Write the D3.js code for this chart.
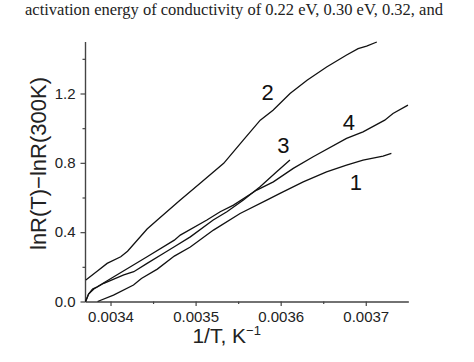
<!DOCTYPE html>
<html lang="en">
    <head>
        <meta charset="utf-8">
        <title>lnR vs 1/T</title>
        <script type="text/javascript" src="https://cdn.jsdelivr.net/npm/d3@7"></script>
        <style type="text/css">
            body { margin: 0; background: #fff; }
            .axis text { font-family: "Liberation Sans", Arial, sans-serif; font-size: 15px; fill: #222; }
            .axis path, .axis line { stroke: #444; stroke-width: 1.2; }
        </style>
    </head>
    <body>
        <script type="text/javascript">
            //curve data, 1/T (K^-1) and lnR(T)-lnR(300K)
            var curve1X = [0.0033848, 0.0034035, 0.003427, 0.0034363, 0.003455, 0.003475, 0.0034938, 0.003521, 0.0035523, 0.0035836, 0.0035992, 0.0036265, 0.0036539, 0.0036774, 0.0036968, 0.0037203, 0.0037301];
            var curve1Y = [0, 0.037, 0.095, 0.133, 0.187, 0.262, 0.314, 0.412, 0.508, 0.585, 0.624, 0.690, 0.748, 0.787, 0.816, 0.839, 0.854];

            var curve2X = [0.003371, 0.003385, 0.003396, 0.003412, 0.00342, 0.003443, 0.003455, 0.003482, 0.003505, 0.003533, 0.003556, 0.003576, 0.003591, 0.003611, 0.003631, 0.003654, 0.003677, 0.003691, 0.003701, 0.003713];
            var curve2Y = [0.124, 0.178, 0.220, 0.258, 0.290, 0.418, 0.470, 0.585, 0.681, 0.797, 0.931, 1.046, 1.104, 1.200, 1.277, 1.353, 1.421, 1.459, 1.473, 1.497];

            var curve3X = [0.0033707, 0.0033742, 0.0033804, 0.0033921, 0.0034156, 0.0034273, 0.003443, 0.0034625, 0.003475, 0.0034938, 0.0035207, 0.0035368, 0.0035562, 0.0035758, 0.0035953, 0.0036109];
            var curve3Y = [0, 0.043, 0.072, 0.105, 0.153, 0.172, 0.220, 0.278, 0.316, 0.373, 0.470, 0.518, 0.585, 0.662, 0.748, 0.816];

            var curve4X = [0.0033707, 0.0033742, 0.0033789, 0.0033844, 0.0034039, 0.003443, 0.003475, 0.003482, 0.0035133, 0.0035289, 0.0035445, 0.0035719, 0.0035914, 0.0036148, 0.0036382, 0.0036774, 0.0036968, 0.0037223, 0.003732, 0.0037496];
            var curve4Y = [0, 0.043, 0.072, 0.085, 0.143, 0.258, 0.354, 0.383, 0.470, 0.518, 0.556, 0.643, 0.690, 0.768, 0.835, 0.941, 0.979, 1.046, 1.085, 1.133];

            //curve labels (number + where it sits, data units)
            var labelText = ["1", "2", "3", "4"];
            var labelX = [0.0036883, 0.0035848, 0.0036033, 0.0036801];
            var labelY = [0.643, 1.161, 0.858, 0.988];

            //ticks
            var xTicks = [0.0034, 0.0035, 0.0036, 0.0037];
            var xMinor = [0.00345, 0.00355, 0.00365];
            var yTicks = [0, 0.4, 0.8, 1.2];
            var yMinor = [0.2, 0.6, 1.0, 1.4];

            var caption = "activation energy of conductivity of 0.22 eV, 0.30 eV, 0.32, and";

            var margin = {top: 41.5, right: 65.7, bottom: 60.5, left: 85};
            var width = 474 - margin.left - margin.right,
                height = 362 - margin.top - margin.bottom;

            var svgRoot = d3.select("body").append("svg")
                        .attr("width", 474)
                        .attr("height", 362);

            //caption line from the page above the figure
            svgRoot.append("text")
                .attr("x", 25)
                .attr("y", 14.5)
                .attr("font-family", "'Liberation Serif', serif")
                .attr("font-size", 16.5)
                .attr("fill", "#222")
                .text(caption);

            var svg = svgRoot.append("g")
                        .attr("transform", "translate(" + margin.left + "," + margin.top + ")");

            var xScale = d3.scaleLinear()
                        .domain([0.00337, 0.00375])
                        .range([0, width]);

            var yScale = d3.scaleLinear()
                        .domain([0, 1.5])
                        .range([height, 0]);

            //minor ticks first
            svg.append("g")
                .attr("class", "axis")
                .attr("transform", "translate(0," + height + ")")
                .call(d3.axisBottom(xScale).tickValues(xMinor).tickSize(2.5).tickFormat("").tickSizeOuter(0));
            svg.append("g")
                .attr("class", "axis")
                .call(d3.axisLeft(yScale).tickValues(yMinor).tickSize(2.5).tickFormat("").tickSizeOuter(0));

            //X axis
            svg.append("g")
                .attr("class", "axis")
                .attr("transform", "translate(0," + height + ")")
                .call(d3.axisBottom(xScale).tickValues(xTicks).tickSize(4.5).tickPadding(5)
                        .tickFormat(d3.format(".4f")).tickSizeOuter(0));

            //Y axis
            svg.append("g")
                .attr("class", "axis")
                .call(d3.axisLeft(yScale).tickValues(yTicks).tickSize(4.5).tickPadding(5)
                        .tickFormat(d3.format(".1f")).tickSizeOuter(0));

            //axis titles
            var xTitle = svg.append("text")
                .attr("text-anchor", "middle")
                .attr("x", width / 2 - 20)
                .attr("y", height + 41)
                .attr("font-family", "'Liberation Sans', Arial, sans-serif")
                .attr("font-size", 21)
                .attr("fill", "#222");
            xTitle.append("tspan").text("1/T, K");
            xTitle.append("tspan").attr("dy", -8).attr("font-size", 13).text("\u22121");

            svg.append("text")
                .attr("text-anchor", "middle")
                .attr("transform", "translate(" + (-39) + "," + (height / 2 - 8) + ") rotate(-90)")
                .attr("font-family", "'Liberation Sans', Arial, sans-serif")
                .attr("font-size", 22)
                .attr("fill", "#222")
                .text("lnR(T)\u2212lnR(300K)");

            //curves
            var curves = [[curve1X, curve1Y], [curve2X, curve2Y], [curve3X, curve3Y], [curve4X, curve4Y]];
            var line = d3.line()
                .x(function(d) { return xScale(d[0]); })
                .y(function(d) { return yScale(d[1]); });

            svg.selectAll(".curve")
               .data(curves)
               .enter()
               .append("path")
               .attr("class", "curve")
               .attr("d", function(c) { return line(d3.zip(c[0], c[1])); })
               .attr("fill", "none")
               .attr("stroke", "#111")
               .attr("stroke-width", 1.3);

            svg.selectAll(".lbl")
               .data(labelText)
               .enter()
               .append("text")
               .attr("class", "lbl")
               .attr("text-anchor", "middle")
               .attr("x", function(d, i) { return xScale(labelX[i]); })
               .attr("y", function(d, i) { return yScale(labelY[i]); })
               .attr("font-family", "'Liberation Sans', Arial, sans-serif")
               .attr("font-size", 22)
               .attr("fill", "#111")
               .text(function(d) { return d; });
        </script>
    </body>
</html>
